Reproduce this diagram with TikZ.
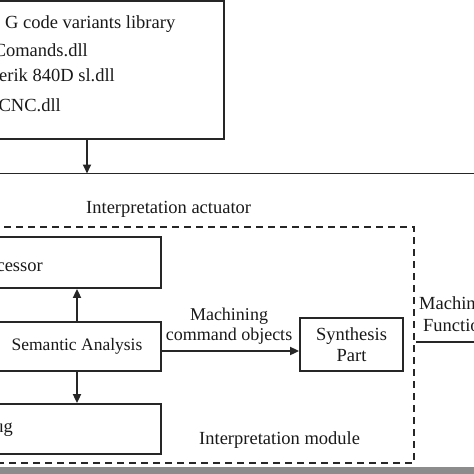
\documentclass[tikz,border=0pt]{standalone}
\usepackage{fontspec}
\setmainfont{Liberation Serif}
\usetikzlibrary{arrows.meta}
\begin{document}
\begin{tikzpicture}[x=1pt,y=-1pt,
  ink/.style={draw=black!85,line width=1.8pt},
  box/.style={ink,rectangle,inner sep=0pt},
  txt/.style={inner sep=0pt,text=black!90,font=\fontsize{18.5}{22}\selectfont},
  arr/.style={ink,-{Triangle[length=9pt,width=8pt]}},
  dashbox/.style={draw=black!85,line width=1.7pt,dash pattern=on 7pt off 5pt}]
\useasboundingbox (0,0) rectangle (474,474);
% top library box
\node[box,minimum width=274pt,minimum height=138pt] (lib) at (87,70) {};
\node[txt,anchor=base west] (t1) at (5,28) {G code variants library};
\node[txt,anchor=base east] (t2) at (88,56) {Comands.dll};
\node[txt,anchor=base east] (t3) at (115,81) {herik 840D sl.dll};
\node[txt,anchor=base east] (t4) at (61,111) {CNC.dll};
% outer actuator frame
\coordinate (actL) at (-20,173.5);
\coordinate (actR) at (494,173.5);
\draw[ink] (actL) -- (actR);
\coordinate (actA) at (87,173.5);
\draw[arr] (lib.south) -- (actA);
\node[txt,anchor=base west] (act) at (86,213) {Interpretation actuator};
% dashed module frame
\coordinate (dm1) at (-20,227);
\coordinate (dm2) at (414,463);
\draw[dashbox] (dm1) -| (dm2) -- (dm1 |- dm2);
\node[txt,anchor=base west] (mod) at (199,444) {Interpretation module};
% preprocessor
\node[box,minimum width=168pt,minimum height=51pt] (pre) at (77,262.5) {};
\node[txt,anchor=base east] (pret) at (43,271) {cessor};
% semantic
\node[box,minimum width=168pt,minimum height=49pt,font=\fontsize{17.5}{20}\selectfont,text=black!90] (sem) at (77,346.5) {Semantic Analysis};
% bottom box
\node[box,minimum width=168pt,minimum height=50pt] (bot) at (77,429) {};
\node[txt,anchor=base east] (bott) at (13,432) {ug};
% synthesis
\node[box,minimum width=103pt,minimum height=53pt,align=center,txt,draw=black!85,line width=1.8pt,font=\fontsize{18.5}{21}\selectfont] (syn) at (351.5,344.5) {Synthesis\\Part};
% connectors
\draw[arr] (sem.north) -- (pre.south);
\draw[arr] (sem.south) -- (bot.north);
\coordinate (sa) at ([yshift=-4.5pt]sem.east);
\draw[arr] (sa) -- (sa -| syn.west);
\node[txt,align=center,font=\fontsize{18}{20}\selectfont] (mlab) at (229,326) {Machining\\command objects};
% right output
\coordinate (o1) at (416,342);
\coordinate (o2) at (494,342);
\draw[ink] (o1) -- (o2);
\node[txt,anchor=base west] (mf1) at (419,309) {Machin};
\node[txt,anchor=base west] (mf2) at (423,331) {Functio};
% bottom gray edge
\fill[black!45] (0,467) rectangle (474,474);
\end{tikzpicture}
\end{document}
